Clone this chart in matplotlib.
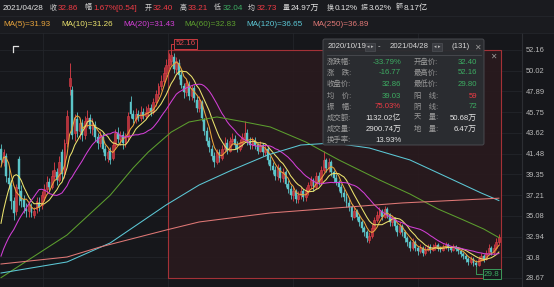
import matplotlib
matplotlib.use('Agg')
import matplotlib.pyplot as plt
from matplotlib.patches import Rectangle, FancyBboxPatch
import numpy as np
import pandas as pd

plt.rcParams['font.family'] = ['Liberation Sans', 'Noto Sans CJK SC', 'DejaVu Sans']

## -- daily candles (visible window, oldest first)
opens = [42.0, 40.6, 41.2, 39.0, 38.2, 36.6, 35.6, 40.9, 37.6, 36.8,
         35.8, 35.6, 36.0, 35.2, 35.8, 36.4, 36.2, 37.0, 37.8, 38.6,
         38.0, 39.2, 39.6, 38.8, 41.6, 39.4, 42.6, 48.5, 48.0, 43.6,
         45.0, 43.8, 44.6, 43.4, 44.8, 45.2, 44.0, 44.4, 43.2, 42.6,
         43.2, 42.0, 41.0, 41.8, 41.0, 42.4, 43.6, 43.0, 43.4, 42.6,
         43.2, 46.8, 45.6, 45.0, 45.6, 45.2, 45.8, 45.4, 45.8, 46.2,
         45.8, 46.8, 47.6, 48.4, 49.0, 49.8, 50.6, 51.0, 51.4, 50.2,
         50.8, 49.6, 48.4, 47.8, 48.6, 47.4, 48.2, 47.0, 46.2, 46.8,
         45.0, 43.8, 42.8, 42.0, 41.2, 40.6, 41.6, 41.0, 42.0, 42.6,
         41.8, 42.8, 43.0, 42.4, 42.0, 42.6, 43.0, 43.6, 42.8, 42.4,
         42.8, 42.4, 41.8, 42.4, 41.6, 42.0, 40.8, 40.2, 39.8, 39.2,
         40.0, 39.0, 39.6, 38.4, 37.8, 37.2, 37.6, 36.8, 37.2, 37.6,
         37.0, 37.6, 38.2, 38.8, 38.0, 39.2, 38.6, 39.8, 40.8, 40.0,
         40.6, 39.6, 39.0, 38.6, 38.0, 37.4, 37.0, 36.4, 36.0, 35.0,
         35.6, 35.0, 34.4, 33.8, 33.4, 32.6, 33.0, 33.8, 34.6, 35.2,
         35.6, 35.0, 35.8, 35.2, 34.4, 34.8, 34.0, 33.4, 34.0, 33.4,
         32.8, 32.4, 31.8, 32.4, 31.8, 31.4, 31.8, 31.2, 31.6, 31.9,
         31.6, 31.9, 32.1, 31.8, 31.6, 31.9, 32.1, 31.8, 31.6, 31.9,
         31.7, 31.4, 31.1, 30.9, 30.6, 30.3, 30.6, 30.2, 30.0, 30.6,
         30.9, 30.6, 31.2, 31.8, 31.3, 31.8, 32.40]
closes = [40.8, 41.6, 39.2, 38.4, 36.6, 35.4, 38.0, 37.8, 36.6, 36.0,
          35.6, 36.2, 35.4, 35.6, 36.6, 36.0, 37.2, 37.8, 38.6, 38.0,
          39.2, 39.8, 38.8, 40.6, 39.4, 42.6, 45.4, 49.3, 43.4, 45.0,
          43.8, 44.6, 43.4, 44.8, 45.2, 44.0, 44.6, 43.2, 42.6, 43.4,
          42.0, 41.2, 41.6, 40.8, 42.4, 43.6, 43.0, 43.4, 42.6, 43.2,
          45.4, 45.6, 45.0, 45.6, 45.2, 45.8, 45.4, 45.8, 46.2, 45.8,
          46.8, 47.6, 48.4, 49.0, 49.8, 50.6, 51.2, 51.6, 50.2, 51.0,
          49.6, 48.6, 47.8, 48.8, 47.4, 48.2, 47.2, 46.2, 47.0, 45.2,
          43.8, 42.8, 42.2, 41.2, 40.6, 41.6, 41.0, 42.0, 42.6, 41.8,
          42.8, 43.0, 42.4, 42.0, 42.6, 43.2, 43.6, 42.8, 42.4, 42.8,
          42.4, 41.8, 42.4, 41.6, 42.0, 40.8, 40.2, 39.8, 39.2, 40.0,
          39.0, 39.6, 38.4, 37.8, 37.2, 37.6, 36.8, 37.2, 37.6, 37.0,
          37.6, 38.2, 38.8, 38.0, 39.2, 38.6, 39.8, 40.8, 40.0, 40.6,
          39.6, 39.0, 38.6, 38.0, 37.4, 37.0, 36.4, 36.0, 35.0, 35.6,
          35.0, 34.4, 33.8, 33.4, 32.8, 33.0, 33.8, 34.6, 35.2, 35.6,
          35.0, 35.8, 35.2, 34.4, 34.8, 34.0, 33.4, 34.0, 33.4, 32.8,
          32.4, 31.8, 32.4, 31.8, 31.4, 31.8, 31.2, 31.6, 31.9, 31.6,
          31.9, 32.1, 31.8, 31.6, 31.9, 32.1, 31.8, 31.6, 31.9, 31.7,
          31.4, 31.1, 30.9, 30.6, 30.3, 30.6, 30.2, 30.0, 30.6, 30.9,
          30.6, 31.2, 31.8, 31.3, 31.8, 32.4, 32.86]
highs = [42.5, 42.0, 41.5, 40.2, 38.8, 37.0, 38.4, 41.2, 38.2, 37.2,
         36.4, 36.6, 36.4, 36.0, 37.0, 37.0, 37.6, 38.4, 39.2, 39.0,
         39.8, 40.6, 40.0, 41.2, 42.0, 43.0, 46.0, 50.8, 48.4, 45.6,
         45.8, 45.2, 45.0, 45.4, 46.0, 45.6, 45.2, 44.8, 43.6, 43.8,
         43.6, 42.4, 42.0, 42.2, 42.8, 44.0, 44.2, 43.8, 43.8, 43.6,
         45.8, 47.4, 46.0, 46.2, 46.0, 46.4, 46.2, 46.4, 46.6, 46.6,
         47.2, 48.0, 48.8, 49.6, 50.4, 51.2, 51.8, 52.16, 51.8, 51.4,
         51.2, 50.0, 48.8, 49.2, 49.0, 48.6, 48.6, 47.4, 47.4, 47.0,
         45.2, 44.2, 43.2, 42.4, 41.6, 42.0, 42.0, 42.4, 43.2, 43.0,
         43.2, 43.6, 43.4, 42.8, 43.0, 43.6, 44.8, 44.0, 43.2, 43.2,
         43.2, 42.6, 42.8, 42.6, 42.4, 42.2, 41.2, 40.6, 40.2, 40.4,
         40.2, 40.0, 39.8, 38.8, 38.2, 38.0, 37.8, 37.6, 38.0, 37.8,
         38.0, 38.6, 39.2, 39.0, 39.6, 39.6, 40.2, 41.8, 41.0, 41.0,
         40.8, 39.8, 39.4, 38.8, 38.4, 37.8, 37.4, 36.8, 36.2, 36.0,
         35.8, 35.2, 34.6, 34.0, 33.6, 33.4, 34.2, 35.0, 35.6, 36.0,
         35.8, 36.1, 36.0, 35.4, 35.2, 35.0, 34.2, 34.4, 34.2, 33.6,
         33.0, 32.6, 32.8, 32.6, 32.0, 32.2, 32.0, 32.0, 32.2, 32.2,
         32.2, 32.4, 32.3, 32.0, 32.2, 32.4, 32.3, 32.0, 32.2, 32.1,
         31.9, 31.6, 31.3, 31.1, 30.8, 30.9, 30.8, 30.5, 30.9, 31.2,
         31.1, 31.6, 32.2, 32.0, 32.2, 32.8, 33.21]
lows = [40.4, 40.2, 38.6, 37.8, 35.8, 34.6, 35.2, 36.2, 36.0, 35.4,
        35.0, 35.0, 35.0, 34.9, 35.4, 35.6, 35.8, 36.6, 37.4, 37.6,
        37.8, 38.8, 38.2, 38.6, 38.8, 39.0, 42.2, 47.5, 43.0, 42.8,
        43.2, 43.0, 42.8, 43.0, 44.2, 43.6, 43.4, 42.8, 42.0, 42.2,
        41.6, 40.8, 40.6, 40.4, 40.8, 42.0, 42.6, 42.4, 42.0, 42.2,
        42.8, 45.2, 44.6, 44.6, 44.8, 44.8, 45.0, 45.0, 45.4, 45.4,
        45.6, 46.4, 47.2, 48.0, 48.6, 49.4, 50.2, 50.6, 49.8, 49.8,
        49.2, 48.2, 47.2, 47.4, 47.0, 47.0, 46.8, 45.8, 45.8, 44.8,
        43.4, 42.4, 41.6, 40.8, 40.1, 40.4, 40.6, 40.8, 41.6, 41.4,
        41.6, 42.4, 42.0, 41.6, 41.8, 42.2, 42.8, 42.4, 42.0, 42.0,
        42.0, 41.4, 41.6, 41.2, 41.2, 40.4, 39.8, 39.4, 38.8, 38.8,
        38.6, 38.6, 38.0, 37.4, 36.8, 36.6, 36.4, 36.4, 36.8, 36.6,
        36.6, 37.2, 37.8, 37.6, 37.8, 38.2, 38.4, 39.6, 39.6, 39.6,
        39.2, 38.6, 38.2, 37.6, 37.0, 36.6, 36.0, 35.6, 34.6, 34.8,
        34.6, 34.0, 33.4, 33.0, 32.4, 32.3, 32.8, 33.6, 34.4, 34.8,
        34.6, 34.8, 34.8, 34.0, 34.0, 33.6, 33.0, 33.2, 33.0, 32.4,
        32.0, 31.4, 31.6, 31.4, 31.0, 31.2, 30.9, 31.0, 31.4, 31.2,
        31.4, 31.6, 31.5, 31.3, 31.4, 31.7, 31.5, 31.3, 31.4, 31.4,
        31.1, 30.8, 30.6, 30.3, 30.0, 30.1, 29.9, 29.8, 29.9, 30.4,
        30.3, 30.5, 31.0, 31.0, 31.1, 31.6, 32.04]
## -- closes of the sessions just before the window (feed the short MAs)
pre_closes = [27.0, 27.2, 27.4, 27.5, 27.6, 27.6, 27.7, 27.8, 27.8, 27.8,
              28.0, 28.2, 28.5, 28.8, 29.0, 36.5, 39.6, 41.0, 42.6]

## -- long MAs (candle index, value)
ma60_idx = [0, 26, 43, 52, 58, 67, 74, 85, 96, 106, 120, 133, 149, 161, 172, 182, 190, 196]
ma60_val = [28.7, 33.1, 37.2, 40.0, 41.65, 43.7, 44.74, 45.26, 44.74, 44.23, 42.68, 40.83,
            38.77, 37.32, 35.78, 34.65, 33.72, 32.83]
ma120_idx = [0, 26, 43, 65, 78, 91, 105, 118, 131, 145, 161, 178, 189, 196]
ma120_val = [29.18, 30.32, 32.28, 36.19, 38.25, 39.8, 41.34, 42.37, 42.58, 42.06, 40.83,
             38.77, 37.43, 36.65]
ma250_idx = [0, 26, 39, 65, 78, 106, 158, 196]
ma250_val = [30.11, 30.83, 31.86, 33.61, 34.44, 35.37, 36.4, 36.89]

yticks = [52.16, 50.02, 47.89, 45.75, 43.62, 41.48, 39.35, 37.21, 35.08, 32.94, 30.8, 28.67]
sel_start = 66  ## -- first candle of the 2020/10/19 - 2021/04/28 range

## -- header texts
head_items = [("2021/04/28", 3, 'w'), ("收", 50, 'l'), ("32.86", 58, 'r'),
              ("幅", 85, 'l'), ("1.67%[0.54]", 93, 'r'), ("开", 145, 'l'), ("32.40", 153, 'r'),
              ("高", 180, 'l'), ("33.21", 188, 'r'), ("低", 214, 'l'), ("32.04", 223, 'g'),
              ("均", 248, 'l'), ("32.73", 257, 'r'), ("量", 283, 'l'), ("24.97万", 291, 'w'),
              ("换", 327, 'l'), ("0.12%", 335, 'w'), ("振", 361, 'l'), ("3.62%", 369, 'w'),
              ("额", 396, 'l'), ("8.17亿", 404, 'w')]
ma_names = ["MA(5)=31.93", "MA(10)=31.26", "MA(20)=31.43", "MA(60)=32.83", "MA(120)=36.65", "MA(250)=36.89"]
ma_x = [3, 61, 123, 184, 246, 312]
ma_cols = ['#e9a53c', '#ece46e', '#d23fd6', '#5c9e2e', '#5cc8d6', '#e07876']

## -- range statistics panel
stat_left = [("涨跌幅:", "-33.79%", 'g'), ("涨　跌:", "-16.77", 'g'), ("收盘价:", "32.86", 'g'),
             ("均　价:", "39.03", 'g'), ("振　幅:", "75.03%", 'r'), ("成交额:", "1132.02亿", 'w'),
             ("成交量:", "2900.74万", 'w'), ("换手率:", "13.93%", 'w')]
stat_right = [("开盘价:", "32.40", 'g'), ("最高价:", "52.16", 'g'), ("最低价:", "29.80", 'g'),
              ("阳　线:", "59", 'r'), ("阴　线:", "72", 'g'), ("天　量:", "50.68万", 'w'),
              ("地　量:", "6.47万", 'w')]

COL = {'w': '#e4e4e4', 'l': '#d4d4d4', 'r': '#ee3b45', 'g': '#3dac62', 'gr': '#9a9a9a'}
BG = '#16171b'
UP_F, UP_E, DN = '#b3323b', '#e2404a', '#5cc5c9'

W, H = 554, 287
fig = plt.figure(figsize=(W / 100, H / 100), dpi=100)
fig.patch.set_facecolor(BG)

ax = fig.add_axes([0, 0, 522 / W, 254 / H])
ax.set_facecolor(BG)
n = len(closes)
xs = np.arange(n)
ax.set_xlim(-0.39, 205.1)
ax.set_ylim(27.74, 53.91)

## -- grid / axis
ax.set_yticks(yticks)
ax.set_yticklabels([str(t) for t in yticks])
ax.yaxis.tick_right()
ax.tick_params(axis='y', length=0, pad=2.5, labelsize=5.4, labelcolor='#b9b9b9')
ax.set_xticks([16.6, 65.7, 114.9, 164.1])
ax.tick_params(axis='x', length=0, labelbottom=False)
ax.grid(True, color='#23252a', lw=0.6)
ax.set_axisbelow(True)
for s in ['left', 'top', 'bottom']:
    ax.spines[s].set_visible(False)
ax.spines['right'].set_color('#2c2e33')
ax.spines['right'].set_linewidth(0.8)

## -- selected range box
ax.add_patch(Rectangle((sel_start - 0.45, yticks[-1]), n - sel_start + 0.3, max(highs) - yticks[-1],
                       facecolor='#2a1a1e', edgecolor='#b3343a', lw=0.8, alpha=0.9, zorder=1))

## -- candles
o = np.array(opens); c = np.array(closes); h = np.array(highs); l = np.array(lows)
up = c >= o
ax.vlines(xs[up], l[up], h[up], color=UP_E, lw=0.6, zorder=3)
ax.vlines(xs[~up], l[~up], h[~up], color=DN, lw=0.6, zorder=3)
ax.bar(xs[up], (c - o)[up], bottom=o[up], width=0.74, color=UP_F, edgecolor=UP_E, lw=0.4, zorder=4)
ax.bar(xs[~up], (o - c)[~up], bottom=c[~up], width=0.74, color=DN, edgecolor=DN, lw=0.3, zorder=4)

## -- moving averages
allc = pd.Series(pre_closes + closes)
for k, col in zip([5, 10, 20], ma_cols[:3]):
    ma = allc.rolling(k).mean().values[len(pre_closes):]
    ax.plot(xs, ma, color=col, lw=0.75, zorder=5)
ax.plot(ma60_idx, ma60_val, color=ma_cols[3], lw=0.75, zorder=5)
ax.plot(ma120_idx, ma120_val, color=ma_cols[4], lw=0.75, zorder=5)
ax.plot(ma250_idx, ma250_val, color=ma_cols[5], lw=0.75, zorder=5)

## -- max / min markers
imax = int(np.argmax(h)); imin = int(np.argmin(l))
ax.annotate("%.2f" % h[imax], xy=(imax, h[imax]), xytext=(4, 6), textcoords='offset pixels',
            color='#e0454c', fontsize=5.8, va='center', ha='left', zorder=8,
            bbox=dict(boxstyle='square,pad=0.15', fc=BG, ec='#c83a40', lw=0.7),
            arrowprops=dict(arrowstyle='-', color='#c83a40', lw=0.7, shrinkA=0, shrinkB=0,
                            connectionstyle='angle,angleA=0,angleB=90,rad=0'))
ax.annotate("%.1f" % l[imin], xy=(imin, l[imin]), xytext=(8, -7), textcoords='offset pixels',
            color='#3dac62', fontsize=5.8, va='center', ha='left', zorder=8,
            bbox=dict(boxstyle='square,pad=0.15', fc=BG, ec='#3a9a5a', lw=0.7),
            arrowprops=dict(arrowstyle='-', color='#3a9a5a', lw=0.7, shrinkA=0, shrinkB=0,
                            connectionstyle='angle,angleA=0,angleB=90,rad=0'))

## -- overlay in pixel coords for header / panel
ov = fig.add_axes([0, 0, 1, 1], zorder=10)
ov.set_xlim(0, W); ov.set_ylim(H, 0); ov.axis('off')
ov.add_patch(Rectangle((0, 0), W, 33, facecolor='#1a1b1f', edgecolor='none'))
ov.plot([0, W], [16, 16], color='#24262b', lw=0.6)
ov.plot([0, W], [33, 33], color='#24262b', lw=0.6)
for txt, x, cc in head_items:
    fs = 5.0 if cc == 'l' else 5.9
    ov.text(x, 8, txt, color=COL[cc], fontsize=fs, va='center', ha='left')
for txt, x, cc in zip(ma_names, ma_x, ma_cols):
    ov.text(x, 24, txt, color=cc, fontsize=5.9, va='center', ha='left')
## -- corner marker
ov.plot([13, 13, 18], [52, 46, 46], color='#e0e0e0', lw=0.9)
ov.text(493, 56, "✕", color='#9a9a9a', fontsize=5.5, va='center', ha='center', family='DejaVu Sans')

ov.add_patch(FancyBboxPatch((323, 39), 161, 106, boxstyle='round,pad=0,rounding_size=2',
                            facecolor='#2b2d31', edgecolor='#4a4c51', lw=0.7, alpha=0.97))
ov.text(328, 47, "2020/10/19", color='#d8d8d8', fontsize=5.6, va='center', ha='left')
ov.text(379, 47, "-", color='#d8d8d8', fontsize=5.6, va='center', ha='center')
ov.text(390, 47, "2021/04/28", color='#d8d8d8', fontsize=5.6, va='center', ha='left')
ov.text(451, 47, "(131)", color='#d8d8d8', fontsize=5.6, va='center', ha='left')
ov.text(478, 47, "✕", color='#9a9a9a', fontsize=5.7, va='center', ha='center', family='DejaVu Sans')
for bx in [365, 432]:
    ov.add_patch(Rectangle((bx, 43), 10, 8, facecolor='#3a3c41', edgecolor='#55575c', lw=0.4))
    ov.text(bx + 3, 47, "◂", color='#bbbbbb', fontsize=3.5, va='center', ha='center', family='DejaVu Sans')
    ov.text(bx + 7.5, 47, "▸", color='#bbbbbb', fontsize=3.5, va='center', ha='center', family='DejaVu Sans')
ov.plot([327, 481], [54.5, 54.5], color='#4a4c51', lw=0.6)
rows_y = [62, 73, 84, 96, 107, 118, 129, 140]
for (lab, val, cc), yy in zip(stat_left, rows_y):
    ov.text(327, yy, lab, color=COL['gr'], fontsize=5.3, va='center', ha='left')
    ov.text(401, yy, val, color=COL[cc], fontsize=5.6, va='center', ha='right')
for (lab, val, cc), yy in zip(stat_right, rows_y):
    ov.text(414, yy, lab, color=COL['gr'], fontsize=5.3, va='center', ha='left')
    ov.text(477, yy, val, color=COL[cc], fontsize=5.6, va='center', ha='right')

fig.savefig('out.png', dpi=100, facecolor=fig.get_facecolor())
